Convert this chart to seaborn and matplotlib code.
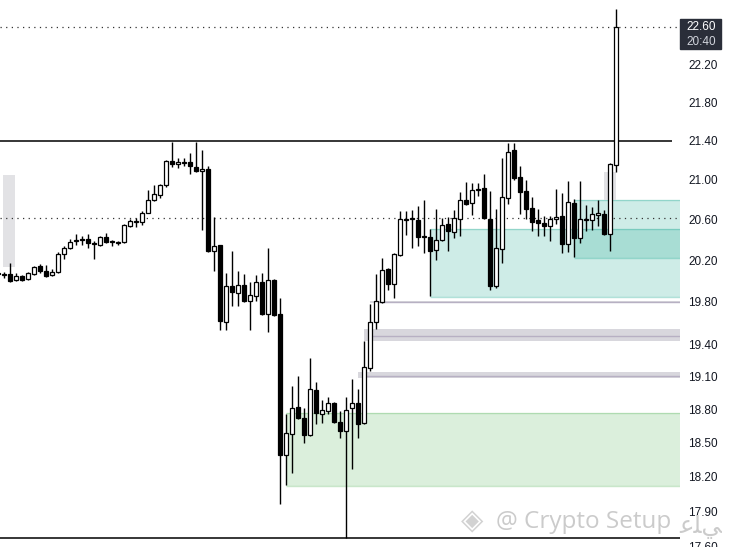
import numpy as np
import pandas as pd
import matplotlib
matplotlib.use("Agg")
import matplotlib.pyplot as plt
from matplotlib.ticker import FixedLocator, FormatStrFormatter, NullLocator
import seaborn as sns

# OHLC, first candle is the half-cut one on the left edge
opens = [20.08, 20.06, 20.07, 20.01, 20.05, 20.02, 20.07, 20.15, 20.10, 20.06,
         20.09, 20.26, 20.32, 20.39, 20.41, 20.41, 20.37, 20.35, 20.43, 20.39,
         20.37, 20.38, 20.54, 20.58, 20.58, 20.67, 20.80, 20.85, 20.95, 21.19,
         21.16, 21.17, 21.18, 21.13, 21.09, 21.11, 20.29, 20.35, 19.61, 19.95,
         19.89, 19.96, 19.81, 19.86, 19.99, 19.69, 20.01, 19.69, 18.39, 18.58,
         18.82, 18.72, 18.57, 18.98, 18.76, 18.79, 18.86, 18.69, 18.61, 18.81,
         18.86, 18.68, 19.18, 19.61, 19.80, 20.12, 19.97, 20.25, 20.60, 20.61,
         20.60, 20.44, 20.43, 20.30, 20.40, 20.56, 20.48, 20.61, 20.80, 20.77,
         20.90, 20.92, 20.61, 19.95, 20.31, 20.82, 21.30, 21.03, 20.89, 20.72,
         20.60, 20.57, 20.54, 20.61, 20.64, 20.36, 20.77, 20.42, 20.60, 20.60,
         20.65, 20.66, 20.46, 21.15]
highs = [20.10, 20.09, 20.18, 20.08, 20.06, 20.09, 20.15, 20.17, 20.16, 20.12,
         20.28, 20.34, 20.41, 20.46, 20.44, 20.46, 20.39, 20.44, 20.47, 20.40,
         20.39, 20.56, 20.61, 20.62, 20.69, 20.90, 20.95, 20.96, 21.20, 21.39,
         21.22, 21.22, 21.27, 21.39, 21.30, 21.14, 20.63, 20.35, 20.08, 20.29,
         20.10, 20.07, 19.99, 20.06, 20.08, 20.32, 20.02, 19.84, 18.76, 19.01,
         19.11, 18.81, 19.27, 19.05, 18.89, 18.91, 18.87, 18.79, 18.91, 19.08,
         18.99, 19.43, 19.78, 20.07, 20.22, 20.13, 20.27, 20.69, 20.69, 20.70,
         20.74, 20.80, 20.51, 20.71, 20.62, 20.63, 20.70, 20.88, 20.98, 20.97,
         20.97, 21.06, 20.89, 20.71, 21.22, 21.38, 21.38, 21.14, 21.00, 20.83,
         20.71, 20.64, 20.64, 20.91, 20.87, 20.99, 20.81, 20.99, 20.75, 20.73,
         20.80, 20.70, 21.17, 22.80]
lows = [20.06, 20.03, 19.99, 20.00, 20.00, 20.01, 20.06, 20.08, 20.04, 20.05,
        20.08, 20.21, 20.31, 20.35, 20.35, 20.32, 20.21, 20.34, 20.37, 20.34,
        20.35, 20.37, 20.53, 20.53, 20.55, 20.67, 20.79, 20.82, 20.93, 21.13,
        21.12, 21.14, 21.06, 21.08, 20.50, 20.28, 20.10, 19.53, 19.53, 19.76,
        19.76, 19.80, 19.53, 19.81, 19.68, 19.52, 19.67, 17.96, 18.13, 18.23,
        18.71, 18.50, 18.56, 18.67, 18.68, 18.76, 18.68, 18.54, 17.67, 18.27,
        18.54, 18.67, 19.15, 19.54, 19.79, 19.91, 19.84, 20.24, 20.45, 20.32,
        20.34, 20.27, 19.86, 20.20, 20.39, 20.29, 20.42, 20.44, 20.75, 20.65,
        20.84, 20.61, 19.91, 19.93, 20.18, 20.76, 21.00, 20.66, 20.61, 20.49,
        20.44, 20.44, 20.39, 20.56, 20.27, 20.28, 20.23, 20.37, 20.49, 20.50,
        20.54, 20.45, 20.29, 21.08]
closes = [20.07, 20.07, 20.00, 20.05, 20.01, 20.08, 20.14, 20.10, 20.05, 20.09,
          20.26, 20.32, 20.38, 20.40, 20.40, 20.37, 20.36, 20.43, 20.38, 20.38,
          20.38, 20.55, 20.59, 20.59, 20.67, 20.80, 20.86, 20.95, 21.19, 21.16,
          21.18, 21.18, 21.14, 21.09, 21.11, 20.29, 20.34, 19.62, 19.95, 19.90,
          19.96, 19.81, 19.87, 19.99, 19.69, 20.01, 19.68, 18.39, 18.59, 18.81,
          18.72, 18.57, 18.99, 18.77, 18.80, 18.86, 18.69, 18.61, 18.80, 18.86,
          18.67, 19.19, 19.61, 19.81, 20.11, 19.97, 20.26, 20.61, 20.61, 20.62,
          20.43, 20.43, 20.29, 20.40, 20.55, 20.49, 20.62, 20.80, 20.76, 20.90,
          20.91, 20.62, 19.95, 20.32, 20.83, 21.28, 21.02, 20.88, 20.71, 20.58,
          20.57, 20.54, 20.61, 20.63, 20.36, 20.78, 20.42, 20.61, 20.61, 20.66,
          20.67, 20.46, 21.16, 22.60]

price_ticks = [22.20, 21.80, 21.40, 21.00, 20.60, 20.20, 19.80, 19.40, 19.10,
               18.80, 18.50, 18.20, 17.90, 17.60]
last_price = "22.60"
last_time = "20:40"

resistance = 21.40
floor_line = 17.67
dotted_levels = [22.60, 20.62]

# zones: start candle, low, high
teal_zones = [(71, 19.85, 20.51), (95, 20.22, 20.80)]
green_zone = (47, 18.12, 18.77)
gray_bands = [(61, 19.79, 19.81, 19.80), (60, 19.43, 19.54, 19.48), (59, 19.09, 19.14, 19.11)]
gray_boxes = [(-0.22, 1.78, 20.14, 21.05), (100, 102, 20.80, 21.08)]

sns.set_theme(style="white")
plt.rcParams["font.family"] = ["Liberation Sans", "DejaVu Sans"]

df = pd.DataFrame({"open": opens, "high": highs, "low": lows, "close": closes})
df["x"] = np.arange(len(df)) - 1
df["up"] = df["close"] >= df["open"]
df["bottom"] = df[["open", "close"]].min(axis=1)
df["body"] = (df["close"] - df["open"]).abs().clip(lower=0.004)

fig = plt.figure(figsize=(7.3, 5.47), dpi=100)
ax = fig.add_axes([0, 0, 680 / 730, 1])
x_left, x_right = -0.717, 112.62
ax.set_yscale("log")
ax.set_xlim(x_left, x_right)
ax.set_ylim(17.595, 22.901)

# zones behind the candles
for x0, lo, hi in teal_zones:
    ax.fill_between([x0, x_right], lo, hi, color="#22ab94", alpha=0.22, lw=0, zorder=1)
    ax.hlines([lo, hi], x0, x_right, color="#22ab94", alpha=0.35, lw=1, zorder=1)
gx, glo, ghi = green_zone
ax.fill_between([gx, x_right], glo, ghi, color="#4caf50", alpha=0.2, lw=0, zorder=1)
ax.hlines([glo, ghi], gx, x_right, color="#4caf50", alpha=0.3, lw=1, zorder=1)
for x0, lo, hi, mid in gray_bands:
    ax.fill_between([x0, x_right], lo, hi, color="#d8d7dd", lw=0, zorder=1)
    ax.hlines(mid, x0 + 1.3, x_right, color="#b7b0c3", lw=1, zorder=1)
for x0, x1, lo, hi in gray_boxes:
    ax.fill_between([x0, x1], lo, hi, color="#e2e2e5", lw=0, zorder=1)

ax.hlines(resistance, x_left, 111.3, color="black", lw=1.1, zorder=2)
ax.axhline(floor_line, color="black", lw=1.1, zorder=2)
for lvl in dotted_levels:
    ax.axhline(lvl, color="#333333", lw=0.9, ls=(0, (1, 3.5)), zorder=2)

# candles
ax.vlines(df["x"], df["low"], df["high"], color="black", lw=1, zorder=3)
ax.bar(df["x"], df["body"], bottom=df["bottom"], width=0.64,
       color=np.where(df["up"], "white", "black"), edgecolor="black", lw=0.9, zorder=4)

ax.yaxis.tick_right()
ax.yaxis.set_major_locator(FixedLocator(price_ticks))
ax.yaxis.set_major_formatter(FormatStrFormatter("%.2f"))
ax.yaxis.set_minor_locator(NullLocator())
ax.tick_params(axis="y", length=0, pad=6, labelsize=8.5, labelcolor="#131722")
ax.set_xticks([])
for s in ax.spines.values():
    s.set_visible(False)

# last price tag
fig.patches.append(plt.Rectangle((680 / 730, 1 - 49 / 547), 41 / 730, 30 / 547,
                                 transform=fig.transFigure, color="#2a2e39", zorder=1))
fig.text(716 / 730, 1 - 27 / 547, last_price, color="white", fontsize=8.5,
         ha="right", va="center", zorder=10)
fig.text(716 / 730, 1 - 42 / 547, last_time, color="#d1d4dc", fontsize=8.5,
         ha="right", va="center", zorder=10)

# watermark
fig.text(461 / 730, 1 - 521 / 547, "◈", color="#d2d2d2", fontsize=21, va="center",
         family=["DejaVu Sans"])
fig.text(496 / 730, 1 - 522 / 547, "@ Crypto Setup", color="#cbcbcb", fontsize=17.5,
         va="center", family=["Open Sans", "DejaVu Sans"])
fig.text(679 / 730, 1 - 527 / 547, "ﻋﻠﻲ", color="#cbcbcb", fontsize=17.5,
         va="center", family=["DejaVu Sans"])

fig.savefig("out.png", dpi=100, facecolor="white")
